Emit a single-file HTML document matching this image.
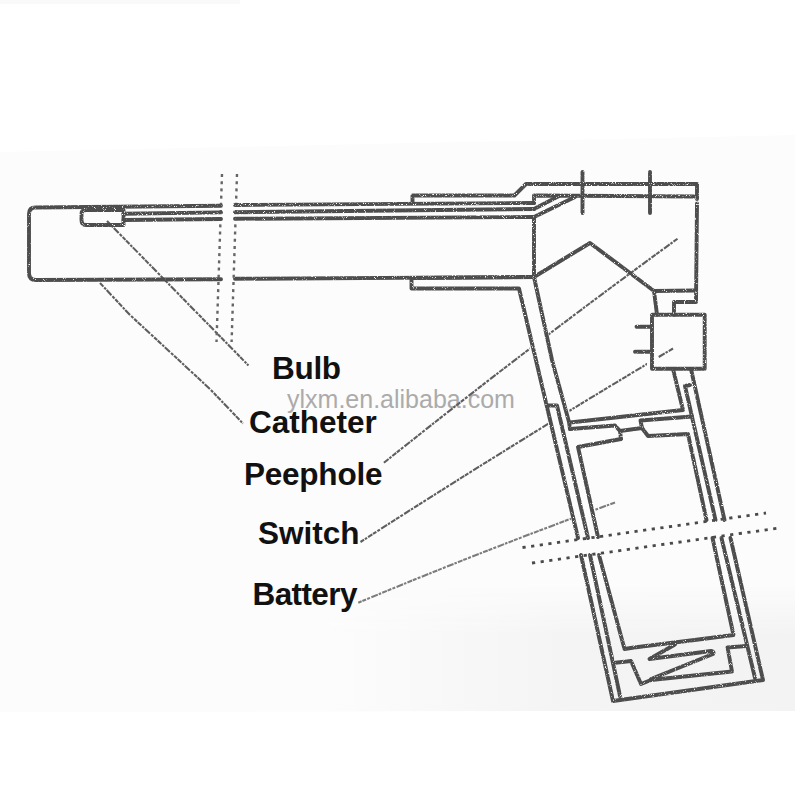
<!DOCTYPE html>
<html><head><meta charset="utf-8">
<style>
html,body{margin:0;padding:0;background:#fff;width:800px;height:800px;overflow:hidden}
svg{display:block;position:absolute;left:0;top:0}
.lbl{position:absolute;font-family:"Liberation Sans",sans-serif;font-weight:bold;color:#111;font-size:31.5px;line-height:1;white-space:nowrap}
</style></head>
<body>
<svg width="800" height="800" viewBox="0 0 800 800">
  <defs>
    <filter id="grain" x="-5%" y="-5%" width="110%" height="110%">
      <feTurbulence type="fractalNoise" baseFrequency="1.1" numOctaves="1" seed="3" result="n"/>
      <feColorMatrix in="n" type="matrix" values="0 0 0 0 0  0 0 0 0 0  0 0 0 0 0  0 0 0 -9 6.6" result="m"/>
      <feComposite in="SourceGraphic" in2="m" operator="in"/>
    </filter>
    <linearGradient id="spk" x1="330" y1="0" x2="800" y2="0" gradientUnits="userSpaceOnUse">
      <stop offset="0" stop-color="#fcfcfc"/>
      <stop offset="0.5" stop-color="#f4f4f4"/>
      <stop offset="1" stop-color="#f3f3f3"/>
    </linearGradient>
    <linearGradient id="spkv" x1="0" y1="585" x2="0" y2="709" gradientUnits="userSpaceOnUse">
      <stop offset="0" stop-color="#fff" stop-opacity="0"/>
      <stop offset="0.4" stop-color="#fff" stop-opacity="1"/>
      <stop offset="1" stop-color="#fff" stop-opacity="1"/>
    </linearGradient>
    <mask id="spkm"><rect x="0" y="585" width="800" height="126" fill="url(#spkv)"/></mask>
  </defs>
  <rect x="0" y="0" width="240" height="4" fill="#f9f9f9"/>
  <polygon points="0,152 795,135 795,711 0,712" fill="#fcfcfc"/>
  <rect x="330" y="585" width="465" height="126" fill="url(#spk)" mask="url(#spkm)"/>
  <text x="287" y="407.66" font-family="Liberation Sans, sans-serif" font-size="25" fill="#ababab">ylxm.en.alibaba.com</text>
  <!-- leader lines -->
  <g fill="none" stroke="#5e5e5e" stroke-width="2.1" stroke-dasharray="5 1.2 2.5 1 7 1.5 3 1.2 4 0.8">
    <path d="M107,221 L248.5,365.5"/>
    <path d="M100,283 L130,315 L210,389 L243,423.5"/>
    <path d="M677.5,238.75 Q530.7,345.25 383.9,462.75"/>
    <path d="M673,348.5 Q516.75,441.25 360.5,542"/>
    <path d="M615,502.5 Q486.6,549.2 358.25,602.75" stroke="#7c7c7c"/>
  </g>
  <!-- dotted break lines -->
  <g fill="none" stroke="#666" stroke-width="2.4">
    <path d="M222,174 L216.5,342" stroke-dasharray="3 4.2"/>
    <path d="M237,174 L231.6,342" stroke-dasharray="3 4.2"/>
    <path d="M522.5,547.5 L766,513" stroke="#4a4a4a" stroke-width="2.8" stroke-dasharray="3.2 5.5"/>
    <path d="M532,563 L779,528" stroke="#4a4a4a" stroke-width="2.8" stroke-dasharray="3.2 5.5"/>
  </g>
  <!-- erase leaders where they pass behind walls -->
  <g fill="#fcfcfc" stroke="none">
    <polygon points="515.5,290 537,290 555.5,360 572.5,422 575.5,430 581.5,447 601,535 575,535"/>
    <rect x="647" y="345" width="11" height="20"/>
  </g>
  <g filter="url(#grain)" fill="none" stroke="#4d4d4d" stroke-width="3.9" stroke-linejoin="round" stroke-linecap="round">
    <!-- catheter tube left part -->
    <path d="M221,205.8 L35.5,207.5 Q29,207.5 29,214 L29,273 Q29,280 36,280 L221,279.2"/>
    <path d="M235,205 L534,203"/>
    <path d="M123.5,213.8 L221,212.4 M235,212.2 L534,209"/>
    <path d="M123.5,220 L221,219 M235,218.8 L534,217"/>
    <path d="M235,278.8 L534,277"/>
    <!-- bulb -->
    <path d="M123.5,210 L123.5,225 L86,225 Q81.5,225 81.5,220 L81.5,214 Q81.5,210 86,210 Z"/>
    <!-- head -->
    <path d="M412.5,203 L412.5,195.5 L514.4,195.5 L526,184 L697,184 L697,199 M697,203.5 L696,302 L674,302 L674,314.7"/>
    <path d="M534,203 L534,195.5 L697,196.5"/>
    <path d="M534,209 L559,196"/>
    <path d="M534,217 L575,197"/>
    <path d="M582.5,172 L582.5,213 M650,172 L650,213"/>
    <path d="M534,217 L534,277 L552,360 L569,422 L570,429"/>
    <path d="M534,277 L590,243 L654,291 L695,290.5"/>
    <path d="M654,291 L657,314.7"/>
    <rect x="652" y="314.7" width="52.7" height="54"/>
    <path d="M636.5,326.7 L652,326.7 M635,351.8 L652,351.8"/>
    <!-- lower tube step -->
    <path d="M534,277 L411.5,278 L411.5,288.5 L519,288.5 L578,538"/>
    <!-- left wall -->
    <path d="M548,405.5 L557,405.5 L588,538"/>
    <path d="M621,439 L578,447 L598,537"/>
    <!-- top bar -->
    <path d="M570,422.5 L683,410 L673,369"/>
    <path d="M570,429 L615,425.5 L620,431 L642,428 L640.5,420.5 L692,416.5"/>
    <path d="M620,431 L621,439"/>
    <path d="M642,428 L648,436 L688,434 L706.5,520"/>
    <!-- right wall -->
    <path d="M691,369 L724.5,520"/>
    <path d="M685,386 L690,385 M685,386 L715.5,520"/>
    <!-- below break left -->
    <path d="M581,555 L613,701 L763,680 L730.5,538"/>
    <path d="M590,555 L620,696"/>
    <path d="M599,555 L624.5,649 L634,647.5 L694.5,640 L733.5,635 L712.5,538"/>
    <path d="M721.5,538 L755,678"/>
    <path d="M613,663 L631,661 L641,684 L651,680 L732,671.5 L727.5,647.5 L746,646"/>
    <path d="M675,644.5 L649.5,659 L711,651 Q715,652 713,654 L651,679"/>
  </g>
</svg>
<div class="lbl" style="left:272px;top:352.5px;letter-spacing:-0.3px">Bulb</div>
<div class="lbl" style="left:249px;top:407px">Catheter</div>
<div class="lbl" style="left:244px;top:459px;letter-spacing:-0.23px">Peephole</div>
<div class="lbl" style="left:258px;top:518px">Switch</div>
<div class="lbl" style="left:252.5px;top:578.5px;letter-spacing:-0.6px">Battery</div>
</body></html>
